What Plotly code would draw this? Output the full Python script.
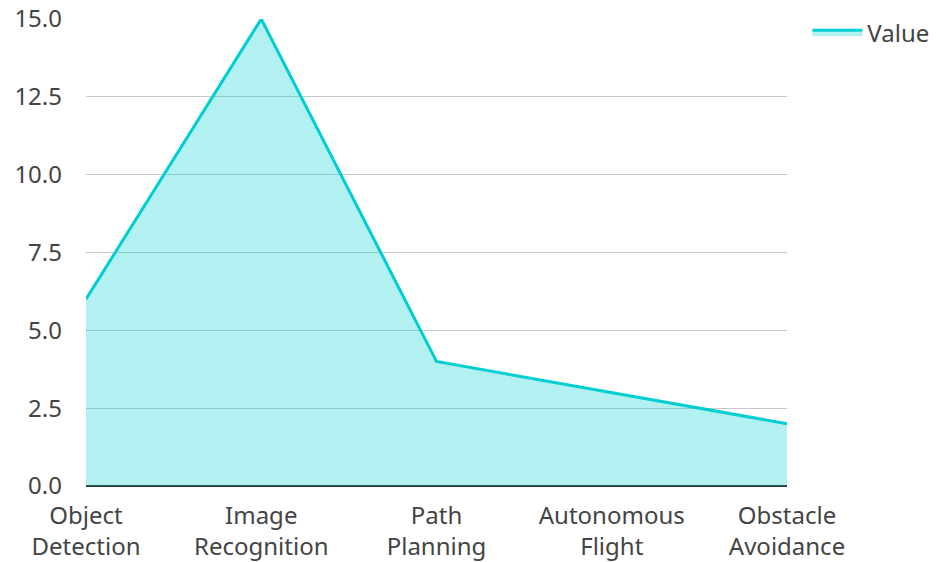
import plotly.graph_objects as go

categories = ["Object<br>Detection", "Image<br>Recognition", "Path<br>Planning", "Autonomous<br>Flight", "Obstacle<br>Avoidance"]
values = [6, 15, 4, 3, 2]
y_ticks = [0, 2.5, 5, 7.5, 10, 12.5, 15]

fig = go.Figure()
fig.add_trace(go.Scatter(
    x=categories, y=values, name="Value", mode="lines",
    line=dict(color="#00CED1", width=3),
    fill="tozeroy", fillcolor="rgba(0,206,209,0.3)",
))
fig.update_layout(
    width=937, height=562,
    margin=dict(l=78, r=158, t=11, b=84, autoexpand=False),
    paper_bgcolor="white", plot_bgcolor="white",
    font=dict(family="Noto Sans", size=24, color="#444"),
    showlegend=True,
    legend=dict(x=1.029, y=1.019, xanchor="left", yanchor="top",
                font=dict(size=24), itemwidth=50),
)
fig.update_xaxes(range=[0, 4], showgrid=False, ticks="", showline=False, zeroline=False,
                 automargin=False, ticklabelstandoff=13)
fig.update_yaxes(range=[0, 15], tickvals=y_ticks, tickformat=".1f", showgrid=True,
                 gridcolor="#c8c8c8", gridwidth=1, zeroline=True, zerolinecolor="#333", zerolinewidth=2,
                 ticks="", showline=False, automargin=False, ticklabelstandoff=23,
                 ticklabeloverflow="allow")
fig.write_html("out.html")
